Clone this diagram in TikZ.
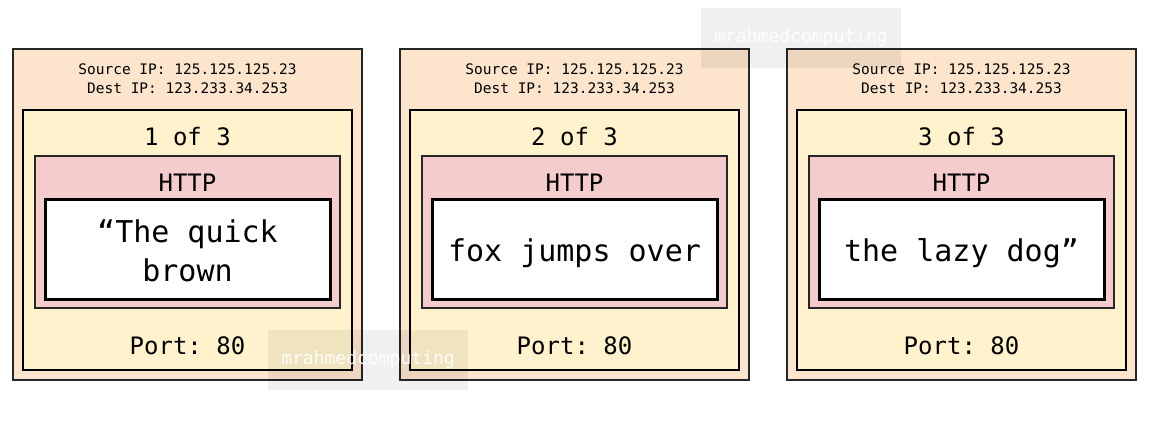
\documentclass[tikz,border=0pt]{standalone}
\usepackage{fontspec}
\setmonofont{DejaVu Sans Mono}
\definecolor{ipfill}{HTML}{FCE4CD}
\definecolor{tcpfill}{HTML}{FFF2CC}
\definecolor{httpfill}{HTML}{F4CCCC}
\tikzset{
	packet/.style={draw=black!85, line width=1.8pt, fill=ipfill, minimum width=349pt, minimum height=331pt, inner sep=0pt},
	segment/.style={draw=black, line width=1.8pt, fill=tcpfill, minimum width=329pt, minimum height=260pt, inner sep=0pt},
	httpbox/.style={draw=black!85, line width=1.5pt, fill=httpfill, minimum width=305pt, minimum height=152pt, inner sep=0pt},
	databox/.style={draw=black, line width=3pt, fill=white, minimum width=285pt, minimum height=100pt, inner sep=0pt},
	label/.style={font=\ttfamily\fontsize{24}{28}\selectfont, inner sep=0pt},
	watermark/.style={fill=black, fill opacity=0.06, text=white, text opacity=0.9, minimum width=200pt, minimum height=60pt, font=\ttfamily\fontsize{18}{20}\selectfont}
}
\begin{document}
\begin{tikzpicture}[x=1pt,y=1pt]
	\useasboundingbox (0,0) rectangle (1149,422);
	% three packets
	\foreach \i/\txt/\dy in {1/{“The quick\\brown}/-1, 2/{fox jumps over}/-3.5, 3/{the lazy dog”}/-3.5}{
		\pgfmathsetmacro{\cx}{187.5+387*(\i-1)}
		\node[packet] (pkt\i) at (\cx,207.5) {};
		\node[font=\ttfamily\fontsize{14.5}{19}\selectfont, align=center, inner sep=0pt] (ip\i) at (\cx,343.5) {Source IP: 125.125.125.23\\Dest IP: 123.233.34.253};
		\node[segment] (seg\i) at (\cx,182) {};
		\node[label] (num\i) at (\cx,285) {\i{} of 3};
		\node[httpbox] (http\i) at (\cx,190) {};
		\node[label] (proto\i) at (\cx,239) {HTTP};
		\node[databox] (data\i) at (\cx,172) {};
		\node[font=\ttfamily\fontsize{30}{39}\selectfont, align=center, inner sep=0pt, yshift=\dy pt] (msg\i) at (data\i.center) {\txt};
		\node[label] (port\i) at (\cx,76) {Port: 80};
	}
	% watermarks
	\node[watermark] (wm1) at (801,384) {mrahmedcomputing};
	\node[watermark] (wm2) at (368,62) {mrahmedcomputing};
\end{tikzpicture}
\end{document}
